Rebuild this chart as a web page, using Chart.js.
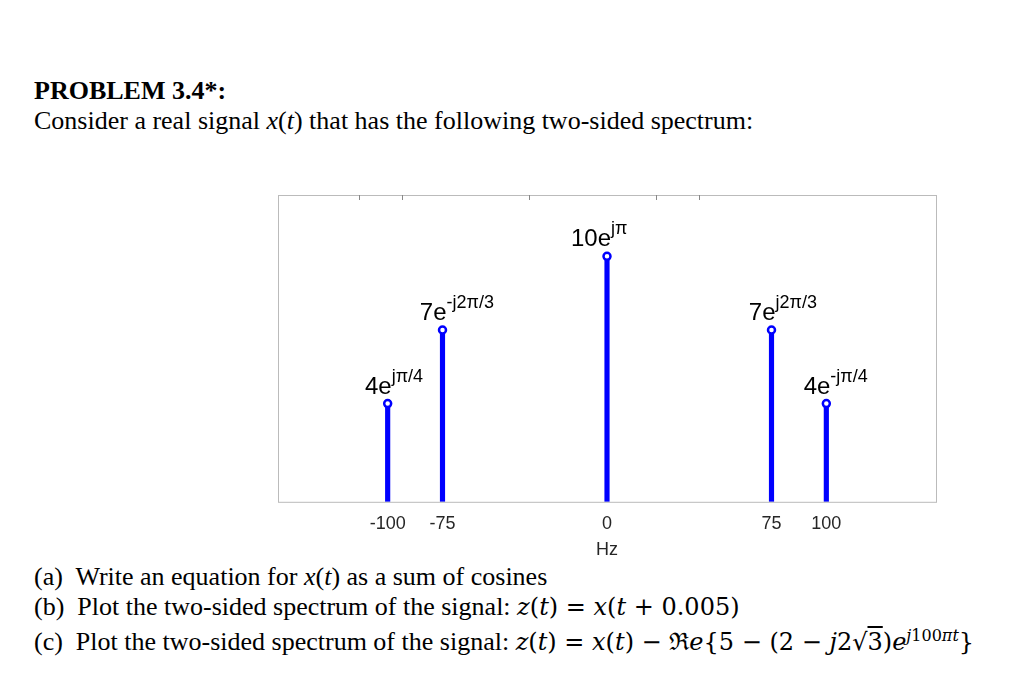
<!DOCTYPE html>
<html><head><meta charset="utf-8">
<script src="https://cdn.jsdelivr.net/npm/chart.js@4"></script>
<style>
body{margin:0;width:1024px;height:685px;background:#fff;position:relative;overflow:hidden;font-family:"Liberation Serif","Times New Roman",serif;color:#000}
.t{position:absolute;left:34px;font-size:26px;white-space:nowrap}
#c{position:absolute;left:0;top:0}
i{font-style:italic}
.m{font-family:"DejaVu Serif",serif;font-size:24px}
</style></head><body>
<div class="t" style="top:76px;font-weight:bold">PROBLEM 3.4*:</div>
<div class="t" style="top:106px">Consider a real signal <i>x</i>(<i>t</i>) that has the following two-sided spectrum:</div>
<div class="t" style="top:562px">(a)&nbsp; Write an equation for <i>x</i>(<i>t</i>) as a sum of cosines</div>
<div class="t" style="top:592px">(b)&nbsp; Plot the two-sided spectrum of the signal: <span class="m"><i>z</i>(<i>t</i>) = <i>x</i>(<i>t</i> + 0.005)</span></div>
<div class="t" style="top:624px">(c)&nbsp; Plot the two-sided spectrum of the signal: <span class="m"><i>z</i>(<i>t</i>) = <i>x</i>(<i>t</i>) − ℜ<i>e</i>{5 − (2 − <i>j</i>2√<span style="text-decoration:overline">3</span>)<i>e</i><sup style="font-size:16px"><i>j</i>100<i>πt</i></sup>}</span></div>
<canvas id="c" width="1024" height="685"></canvas>
<script>
const freqs=[-100,-75,0,75,100];
const mags=[4,7,10,7,4];
const baseLabels=["4e","7e","10e","7e","4e"];
const supLabels=["jπ/4","-j2π/3","jπ","j2π/3","-jπ/4"];
const tickVals=[-100,-75,0,75,100];
const blue='#0000ff';
const labelPlugin={id:'lbl',afterDatasetsDraw(ch){
  const c=ch.ctx,xs=ch.scales.x,ys=ch.scales.y,x2=ch.scales.x2;
  c.save();c.fillStyle='#000';c.textBaseline='alphabetic';
  freqs.forEach((f,i)=>{
    const x=xs.getPixelForValue(f),y=ys.getPixelForValue(mags[i])-10;
    c.font='24px "Liberation Sans", Arial';
    const w1=c.measureText(baseLabels[i]).width;
    const x0=x-w1+4;
    c.fillText(baseLabels[i],x0,y);
    c.font='18px "Liberation Sans", Arial';c.fillText(supLabels[i],x0+w1,y-12);
  });
  const a=ch.chartArea;c.strokeStyle='#bbbbbb';c.lineWidth=1;
  c.strokeRect(a.left+0.5,a.top+0.5,a.right-a.left,a.bottom-a.top);
  c.strokeStyle='#888';
  tickVals.forEach(v=>{const px=Math.round(x2.getPixelForValue(v))+0.5;c.beginPath();c.moveTo(px,a.top);c.lineTo(px,a.top+5);c.stroke();});
  c.restore();
}};
new Chart(document.getElementById('c'),{
  data:{datasets:[
    {type:'bar',data:freqs.map((f,i)=>({x:f,y:mags[i]})),backgroundColor:blue,barThickness:4.5,order:2},
    {type:'scatter',data:freqs.map((f,i)=>({x:f,y:mags[i]})),pointStyle:'circle',pointRadius:3.5,pointBackgroundColor:'#fff',pointBorderColor:blue,pointBorderWidth:2.5,order:1}
  ]},
  options:{responsive:false,animation:false,
    layout:{padding:{left:278,right:88,top:195,bottom:124}},
    plugins:{legend:{display:false},tooltip:{enabled:false}},
    scales:{
      x:{type:'linear',offset:false,min:-150,max:150,afterBuildTicks(s){s.ticks=tickVals.map(v=>({value:v}))},
        grid:{display:true,drawOnChartArea:false,drawTicks:false},border:{display:false},
        ticks:{color:'#262626',font:{size:18,family:'"Liberation Sans", Arial'},padding:11,autoSkip:false,maxRotation:0},
        title:{display:true,text:'Hz',color:'#262626',font:{size:18,family:'"Liberation Sans", Arial'},padding:{top:-6,bottom:0}}},
      x2:{type:'linear',offset:false,position:'top',display:false,min:-148,max:240},
      y:{min:0,max:12.5,display:false}
    }},
  plugins:[labelPlugin]
});
</script></body></html>
